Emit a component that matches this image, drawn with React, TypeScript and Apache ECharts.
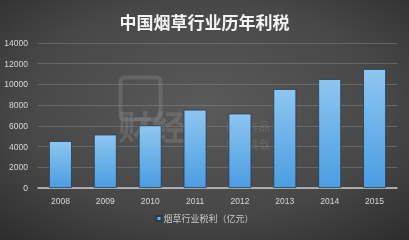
import React, { useEffect, useRef } from "react";
import * as echarts from "echarts";

const title = "中国烟草行业历年利税";
const seriesName = "烟草行业税利（亿元）";
const years = ["2008", "2009", "2010", "2011", "2012", "2013", "2014", "2015"];
const values = [4530, 5160, 6050, 7560, 7190, 9560, 10520, 11490];
const yTicks = { min: 0, max: 14000, interval: 2000 };

export default function App() {
  const ref = useRef<HTMLDivElement>(null);
  useEffect(() => {
    if (!ref.current) return;
    const chart = echarts.init(ref.current, undefined, { renderer: "svg" });
    chart.setOption({
      animation: false,
      backgroundColor: new echarts.graphic.RadialGradient(0.5, 0.45, 0.75, [
        { offset: 0, color: "#5a5a5a" },
        { offset: 0.6, color: "#474747" },
        { offset: 1, color: "#2c2c2c" },
      ]),
      title: {
        text: title,
        left: "center",
        top: 8,
        textStyle: {
          color: "#f4f4f4",
          fontSize: 17,
          fontWeight: "bold",
          fontFamily: "Noto Sans CJK SC",
        },
      },
      graphic: [
        {
          type: "text",
          left: 118,
          top: 108,
          style: {
            text: "财经",
            fill: "rgba(150,150,150,0.3)",
            fontSize: 34,
            fontWeight: "bold",
            fontFamily: "Noto Sans CJK SC",
          },
        },
        {
          type: "rect",
          left: 118,
          top: 75,
          shape: { width: 40, height: 42, r: 4 },
          style: { fill: "none", stroke: "rgba(150,150,150,0.3)", lineWidth: 4 },
        },
        {
          type: "text",
          left: 226,
          top: 120,
          style: {
            text: "原创作品",
            fill: "rgba(150,150,150,0.3)",
            fontSize: 11,
            fontFamily: "Noto Sans CJK SC",
          },
        },
        {
          type: "text",
          left: 226,
          top: 138,
          style: {
            text: "禁止转载",
            fill: "rgba(150,150,150,0.3)",
            fontSize: 11,
            fontFamily: "Noto Sans CJK SC",
          },
        },
      ],
      legend: {
        bottom: 12,
        left: "center",
        itemWidth: 5,
        itemHeight: 5,
        itemGap: 2,
        icon: "rect",
        textStyle: { color: "#c8c8c8", fontSize: 9, padding: [0, 0, 0, -3], fontFamily: "Noto Sans CJK SC" },
        data: [seriesName],
      },
      grid: { left: 38, right: 12, top: 43, bottom: 52 },
      xAxis: {
        type: "category",
        data: years,
        axisLine: { lineStyle: { color: "#c8c8c8", width: 1.5 } },
        axisTick: { show: false },
        axisLabel: { color: "#d8d8d8", fontSize: 8.5, margin: 8, fontFamily: "Liberation Sans" },
      },
      yAxis: {
        type: "value",
        min: yTicks.min,
        max: yTicks.max,
        interval: yTicks.interval,
        axisLine: { show: false },
        axisTick: { show: false },
        axisLabel: {
          color: "#d8d8d8",
          fontSize: 8.5,
          margin: 10,
          fontFamily: "Liberation Sans",
          formatter: (v: number) => String(v),
        },
        splitLine: { lineStyle: { color: "rgba(130,130,130,0.55)", width: 1 } },
      },
      series: [
        {
          name: seriesName,
          type: "bar",
          data: values,
          barWidth: "51%",
          itemStyle: {
            color: new echarts.graphic.LinearGradient(0, 0, 0, 1, [
              { offset: 0, color: "#8ec6f0" },
              { offset: 1, color: "#4b9de2" },
            ]),
            borderColor: "#2a3a4a",
            borderWidth: 0.8,
          },
        },
      ],
    });
    return () => chart.dispose();
  }, []);
  return (
    <div
      ref={ref}
      style={{ position: "fixed", left: 0, top: 0, width: 409, height: 240 }}
    />
  );
}
